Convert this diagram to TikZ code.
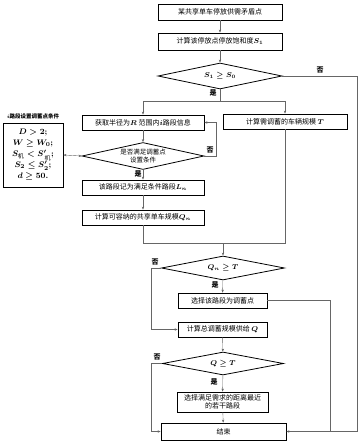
\documentclass[tikz,border=0pt]{standalone}
\usepackage{amsmath,amssymb}
\usepackage{fontspec}
\setmainfont{Noto Sans CJK SC}
\usepackage{tikz}
\usetikzlibrary{arrows.meta,positioning,calc,shapes.geometric}

\begin{document}
\begin{tikzpicture}[x=1pt, y=-1pt, font=\fontsize{7}{8.5}\selectfont\boldmath,
  procbox/.style={draw, thick, inner sep=0pt, minimum height=15pt, align=center},
  testnode/.style={draw, thick, diamond, aspect=5, inner sep=0pt, align=center},
  flow/.style={draw=black!60, -{Stealth[length=3pt,width=2.4pt]}},
  both/.style={draw=black!60, {Stealth[length=3pt,width=2.4pt]}-{Stealth[length=3pt,width=2.4pt]}},
  link/.style={draw=black!60},
  tag/.style={font=\fontsize{7}{8}\selectfont\bfseries}]
\useasboundingbox (0,0) rectangle (361,444);
% main column
\node[procbox, minimum width=124pt, minimum height=16pt] (src) at (220,12) {某共享单车停放供需矛盾点};
\node[procbox, minimum width=124pt, minimum height=17pt] (sat) at (220,41.5) {计算该停放点停放饱和度$S_1$};
\node[testnode, minimum width=124pt, minimum height=26pt] (chk1) at (220,76) {$S_1\geq S_0$};
\node[procbox, minimum width=122pt] (info) at (143,122.5) {获取半径为$R$ 范围内$i$路段信息};
\node[procbox, minimum width=124pt] (need) at (285,121.5) {计算需调蓄的车辆规模 $T$};
\node[testnode, minimum width=122pt, minimum height=27pt, font=\fontsize{6.5}{7.5}\selectfont] (chk2) at (143,156) {是否满足调蓄点\\设置条件};
\node[draw, thick, minimum width=60pt, minimum height=64pt, align=center, inner sep=1pt,
  font=\fontsize{8.5}{11}\selectfont\boldmath] (cond) at (33,155)
  {$D>2;$\\ $W\geq W_0;$\\ $S_{\text{机}}<S^{\prime}_{\,\text{机}};$\\ $S_2\leq S'_2;$\\ $d\geq 50.$};
\node[font=\fontsize{5.5}{6}\selectfont\bfseries\boldmath, above=0.5pt of cond] (condtitle) {$i$路段设置调蓄点条件};
\node[procbox, minimum width=122pt] (mark) at (143,187.5) {该路段记为满足条件路段$L_n$};
\node[procbox, minimum width=122pt] (cap) at (143,217.5) {计算可容纳的共享单车规模$Q_n$};
\node[testnode, minimum width=123pt, minimum height=24pt] (chk3) at (223,268) {$Q_n\geq T$};
\node[procbox, minimum width=89pt] (pick) at (222.5,300.5) {选择该路段为调蓄点};
\node[procbox, minimum width=89pt] (total) at (222.5,329.5) {计算总调蓄规模供给 $Q$};
\node[testnode, minimum width=121pt, minimum height=23pt] (chk4) at (223,363.5) {$Q\geq T$};
\node[procbox, minimum width=91pt, minimum height=20pt, font=\fontsize{7}{8}\selectfont] (near) at (222.5,402) {选择满足需求的距离最近\\的若干路段};
\node[procbox, minimum width=125pt, minimum height=17pt] (stop) at (223.5,431.5) {结束};
% yes / no
\node[tag] (yes1) at (213,93) {是};
\node[tag] (no1) at (320,70) {否};
\node[tag] (no2) at (210,150) {否};
\node[tag] (yes2) at (138,174) {是};
\node[tag] (no3) at (155,262) {否};
\node[tag] (yes3) at (215,285) {是};
\node[tag] (no4) at (157,357) {否};
\node[tag] (yes4) at (214,382) {是};
% connectors
\coordinate (fork) at (220,101);
\coordinate (merge) at (223,243);
\coordinate (outer) at (357,76);
\coordinate (inner) at (330,431.5);
\draw[flow] (src) -- (sat);
\draw[flow] (sat) -- (chk1);
\draw[link] (chk1.south) -- (fork);
\draw[flow] (fork) -| (info.north);
\draw[flow] (fork) -| (need.north);
\draw[flow] (chk1.east) -- (outer) |- (stop.east);
\draw[flow] (info) -- (chk2);
\draw[flow] (chk2.east) -- ++(12,0) |- (info.east);
\draw[both] (cond.east) -- (chk2.west);
\draw[flow] (chk2) -- (mark);
\draw[flow] (mark) -- (cap);
\draw[link] (cap.south) |- (merge);
\draw[link] (need.south) |- (merge);
\draw[flow] (merge) -- (chk3.north);
\draw[flow] (chk3) -- (pick);
\draw[flow] (chk3.west) -- ++(-10,0) |- (total.west);
\draw[link] (pick.east) -| (inner);
\draw[flow] (total) -- (chk4);
\draw[flow] (chk4.west) -- ++(-11,0) |- (stop.west);
\draw[flow] (chk4) -- (near);
\draw[flow] (near) -- (stop);
\end{tikzpicture}
\end{document}
